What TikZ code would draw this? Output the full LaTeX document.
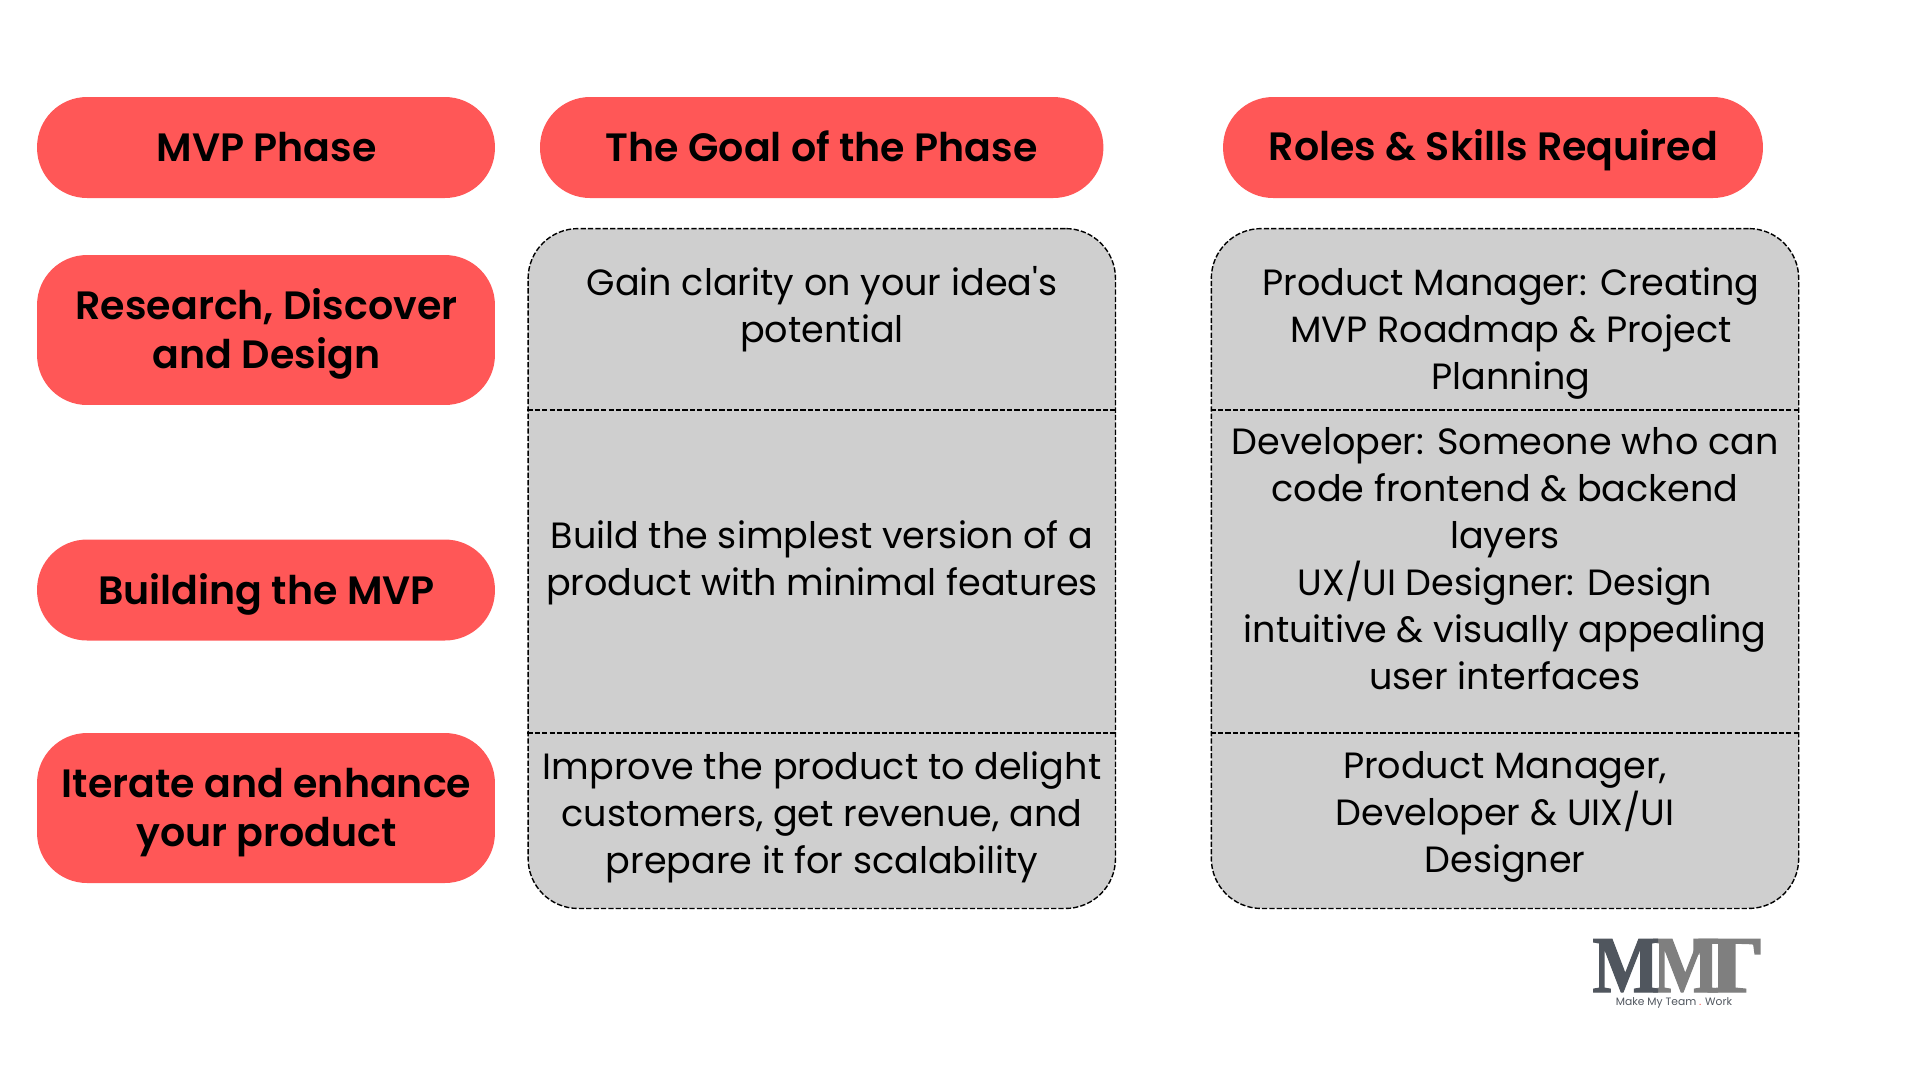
\documentclass[tikz,border=0pt]{standalone}
\usepackage{fontspec}
\newfontfamily\bodyfont{Poppins}[Ligatures=ResetAll, BoldFont=Poppins SemiBold]
\newfontfamily\logofont{Liberation Serif Bold}[FakeBold=1.5]
\usetikzlibrary{positioning}
\definecolor{pillred}{HTML}{FF5757}
\definecolor{panelgray}{HTML}{CFCFCF}
\definecolor{logodark}{HTML}{50565E}
\definecolor{logogray}{HTML}{7F7F7F}
\tikzset{
  pill/.style={fill=pillred, rounded corners=1cm, minimum width=9.16cm, minimum height=2.02cm, inner sep=0pt},
  tallpill/.style={pill, minimum height=3cm},
  headtext/.style={font=\bodyfont\fontsize{22.5}{27.8}\selectfont\bfseries, align=center, text=black, inner sep=0pt},
  panel/.style={fill=panelgray, draw=black, line width=0.8pt, dash pattern=on 3pt off 1.2pt, rounded corners=1cm, minimum width=11.75cm, minimum height=13.6cm, inner sep=0pt},
  celldash/.style={draw=black, line width=0.8pt, dash pattern=on 3pt off 1.2pt},
  bodytext/.style={font=\bodyfont\fontsize{20.8}{26.8}\selectfont, align=center, text=black, inner sep=0pt},
  logoletter/.style={font=\logofont\fontsize{46}{46}\selectfont, inner sep=0pt, anchor=base, xscale=0.88, transform shape},
}
\begin{document}
\begin{tikzpicture}[x=0.02cm, y=-0.02cm]
\useasboundingbox (0,0) rectangle (1920,1080);

% Columna de las fases
\node[pill] (phasehead) at (266,147.5) {};
\node[tallpill] (research) at (266,330) {};
\node[pill] (building) at (266,590) {};
\node[tallpill] (iterate) at (266,808) {};
\node[headtext] (phaselabel) at (266.5,147) {MVP Phase};
\node[headtext] (researchlabel) at (266.5,333.7) {Research, Discover\\and Design};
\node[headtext] (buildinglabel) at (266.5,594) {Building the MVP};
\node[headtext] (iteratelabel) at (266.5,812.4) {Iterate and enhance\\your product};

% Cabeceras de las otras dos columnas
\node[pill, minimum width=11.27cm] (goalhead) at (821.7,147.5) {};
\node[headtext] (goallabel) at (821.7,145.8) {The Goal of the Phase};
\node[pill, minimum width=10.8cm] (roleshead) at (1493,147.5) {};
\node[headtext] (roleslabel) at (1493.4,150.6) {Roles \& Skills Required};

% Paneles grises, con sus lineas de corte
\node[panel] (goalpanel) at (821.8,568.5) {};
\node[panel] (rolespanel) at (1505,568.5) {};
\coordinate (cuta) at (0,410);
\coordinate (cutb) at (0,733);
\draw[celldash] (goalpanel.west |- cuta) -- (goalpanel.east |- cuta);
\draw[celldash] (goalpanel.west |- cutb) -- (goalpanel.east |- cutb);
\draw[celldash] (rolespanel.west |- cuta) -- (rolespanel.east |- cuta);
\draw[celldash] (rolespanel.west |- cutb) -- (rolespanel.east |- cutb);

% Textos de los objetivos
\node[bodytext] (goalone) at (822,309.5) {Gain clarity on your idea's\\potential};
\node[bodytext] (goaltwo) at (822,563) {Build the simplest version of a\\product with minimal features};
\node[bodytext] (goalthree) at (822,817) {Improve the product to delight\\customers, get revenue, and\\prepare it for scalability};

% Textos de los roles
\node[bodytext] (roleone) at (1511,333.5) {Product Manager: Creating\\MVP Roadmap \& Project\\Planning};
\node[bodytext] (roletwo) at (1505,558.5) {Developer: Someone who can\\code frontend \& backend\\layers\\UX/UI Designer: Design\\intuitive \& visually appealing\\user interfaces};
\node[bodytext] (rolethree) at (1505,817) {Product Manager,\\Developer \& UIX/UI\\Designer};

% Logo
\node[logoletter, text=logogray] (logomb) at (1686,992) {M};
\node[logoletter, text=logodark] (logoma) at (1626,992) {M};
\node[logoletter, text=logogray, xscale=1.45] (logot) at (1727,992) {T};
\node[font=\bodyfont\fontsize{6.1}{8}\selectfont, text=logodark, inner sep=0pt] (logotag) at (1674,1002.5) {Make My Team {\color{pillred}.} Work};
\end{tikzpicture}
\end{document}
